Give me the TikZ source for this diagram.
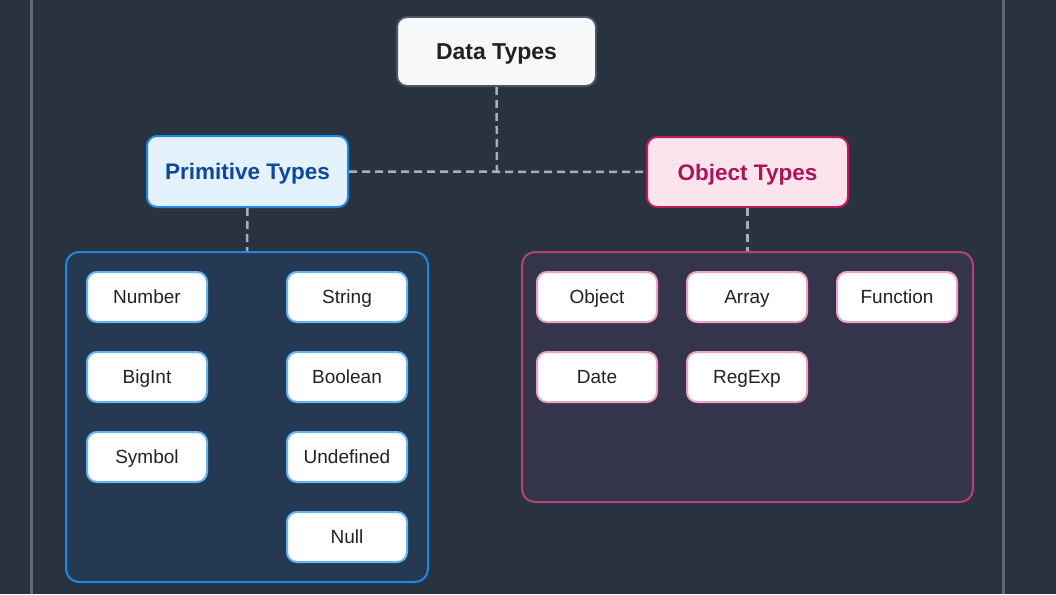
\documentclass[tikz,border=0pt]{standalone}
\usepackage{fontspec}
\setmainfont{Liberation Sans}
\definecolor{bg}{HTML}{29323F}
\definecolor{rail}{HTML}{5E6977}
\definecolor{dash}{HTML}{A3B0C0}
\definecolor{dtfill}{HTML}{F7F8FA}
\definecolor{dtdraw}{HTML}{4B5563}
\definecolor{dttext}{HTML}{222222}
\definecolor{pfill}{HTML}{E3F2FD}
\definecolor{pdraw}{HTML}{1E88E5}
\definecolor{ptext}{HTML}{0D47A1}
\definecolor{pcont}{HTML}{253A52}
\definecolor{pitem}{HTML}{64B5F6}
\definecolor{ofill}{HTML}{FCE4EC}
\definecolor{odraw}{HTML}{C2185B}
\definecolor{otext}{HTML}{AD1457}
\definecolor{ocont}{HTML}{34344A}
\definecolor{ocontdraw}{HTML}{B8407A}
\definecolor{oitem}{HTML}{F0A0C0}
\definecolor{itemtext}{HTML}{222222}
\tikzset{
  base/.style={rounded corners=10pt, inner sep=0pt, text depth=5pt},
  databox/.style={base, text height=21.5pt, fill=dtfill, draw=dtdraw, line width=2pt, minimum width=199pt, minimum height=69pt, text=dttext, font=\fontsize{23}{26}\selectfont\bfseries},
  primhead/.style={base, text height=21.1pt, fill=pfill, draw=pdraw, line width=2pt, minimum width=201pt, minimum height=71pt, text=ptext, font=\fontsize{22.5}{26}\selectfont\bfseries},
  objhead/.style={base, text height=21.1pt, fill=ofill, draw=odraw, line width=2pt, minimum width=201pt, minimum height=70pt, text=otext, font=\fontsize{22.5}{26}\selectfont\bfseries},
  primcont/.style={rounded corners=13pt, fill=pcont, draw=pdraw, line width=2pt, minimum width=362pt, minimum height=330pt, inner sep=0pt},
  objcont/.style={rounded corners=13pt, fill=ocont, draw=ocontdraw, line width=2pt, minimum width=451pt, minimum height=250pt, inner sep=0pt},
  primitem/.style={base, text height=18.6pt, fill=white, draw=pitem, line width=2pt, minimum width=120pt, minimum height=50pt, text=itemtext, font=\fontsize{19}{22}\selectfont},
  objitem/.style={base, text height=18.6pt, fill=white, draw=oitem, line width=2pt, minimum width=120pt, minimum height=50pt, text=itemtext, font=\fontsize{19}{22}\selectfont},
  link/.style={draw=dash, line width=2.5pt, dash pattern=on 8pt off 5pt},
}
\begin{document}
\begin{tikzpicture}[x=1pt,y=-1pt]
  \fill[bg] (0,0) rectangle (1056,594);
  \useasboundingbox (0,0) rectangle (1056,594);
  \draw[rail, line width=3pt] (31,0) -- (31,594);
  \draw[rail, line width=3pt] (1003,0) -- (1003,594);

  \node[primcont] (pc) at (247,417) {};
  \node[objcont] (oc) at (747.5,377) {};

  \node[databox] (dt) at (496.5,51.5) {Data Types};
  \node[primhead] (pt) at (247.5,171.5) {Primitive Types};
  \node[objhead] (ot) at (747.5,172) {Object Types};

  \coordinate (j) at (497,172);
  \draw[link] (dt.south) -- (j);
  \draw[link] (pt.east) -- (ot.west);
  \draw[link] (pt.south) -- (pc.north);
  \draw[link] (ot.south) -- (oc.north);

  \node[primitem] (num) at (147,297) {Number};
  \node[primitem] (str) at (347,297) {String};
  \node[primitem] (big) at (147,377) {BigInt};
  \node[primitem] (boo) at (347,377) {Boolean};
  \node[primitem] (sym) at (147,457) {Symbol};
  \node[primitem] (und) at (347,457) {Undefined};
  \node[primitem] (nul) at (347,537) {Null};

  \node[objitem] (obj) at (597,297) {Object};
  \node[objitem] (arr) at (747,297) {Array};
  \node[objitem] (fun) at (897,297) {Function};
  \node[objitem] (dat) at (597,377) {Date};
  \node[objitem] (reg) at (747,377) {RegExp};
\end{tikzpicture}
\end{document}
